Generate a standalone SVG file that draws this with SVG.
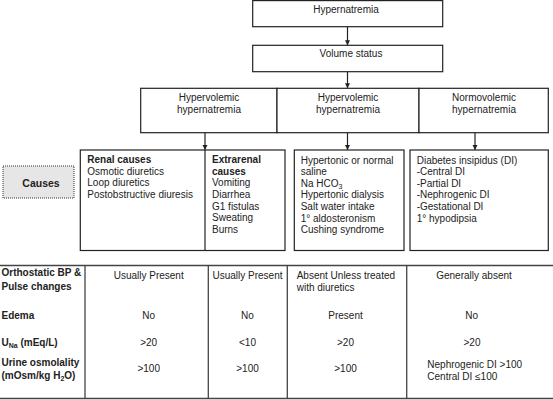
<svg xmlns="http://www.w3.org/2000/svg" width="553" height="400" viewBox="0 0 553 400">
<style>
.box{fill:#fff;stroke:#222;stroke-width:1.2}
.t{font-family:"Liberation Sans",Arial,sans-serif;font-size:10px;fill:#222}
.b{font-weight:bold}
.c{text-anchor:middle}
.con{stroke:#222;stroke-width:1.2;fill:none}
.tbl{stroke:#444;stroke-width:1.3;fill:none}
.sub{font-size:7px}
</style>
<defs>
<marker id="ah" markerUnits="userSpaceOnUse" markerWidth="6" markerHeight="6" refX="5" refY="3" orient="auto">
<path d="M0,0.5 L5,3 L0,5.5 z" fill="#222"/>
</marker>
</defs>
<rect width="553" height="400" fill="#fff"/>

<g id="connectors">
<line class="con" x1="347.5" y1="26.7" x2="347.5" y2="45.3" marker-end="url(#ah)"/>
<line class="con" x1="347.5" y1="71.7" x2="347.5" y2="88.3" marker-end="url(#ah)"/>
<line class="con" x1="205" y1="132.7" x2="205" y2="150" marker-end="url(#ah)"/>
<line class="con" x1="347.5" y1="132.7" x2="347.5" y2="150" marker-end="url(#ah)"/>
<line class="con" x1="475" y1="132.7" x2="475" y2="150" marker-end="url(#ah)"/>
</g>

<g id="hypernatremia">
<rect class="box" x="252.7" y="0.6" width="190" height="26.1"/>
<text class="t c" x="346" y="13">Hypernatremia</text>
</g>

<g id="volume-status">
<rect class="box" x="252.7" y="45.3" width="190" height="26.4"/>
<text class="t c" x="351" y="56.5">Volume status</text>
</g>

<g id="hypervolemic-1">
<rect class="box" x="140.7" y="88.3" width="136.3" height="44.4"/>
<text class="t c" x="209" y="100.5">Hypervolemic</text>
<text class="t c" x="209" y="113">hypernatremia</text>
</g>

<g id="hypervolemic-2">
<rect class="box" x="277" y="88.3" width="142" height="44.4"/>
<text class="t c" x="348" y="100.5">Hypervolemic</text>
<text class="t c" x="348" y="113">hypernatremia</text>
</g>

<g id="normovolemic">
<rect class="box" x="419" y="88.3" width="129.3" height="44.4"/>
<text class="t c" x="484" y="100.5">Normovolemic</text>
<text class="t c" x="484" y="113">hypernatremia</text>
</g>

<g id="causes-label">
<rect x="3" y="166" width="71" height="32" fill="#e6e6e6" stroke="#333" stroke-width="1" stroke-dasharray="1,1"/>
<text class="t b c" x="41" y="186.5" style="font-size:10.5px">Causes</text>
</g>

<g id="renal-extrarenal">
<rect class="box" x="80.3" y="150" width="204.7" height="100.5"/>
<line class="con" x1="205" y1="150" x2="205" y2="250.5"/>
<text class="t b" x="87.3" y="163">Renal causes</text>
<text class="t" x="87.3" y="174.8">Osmotic diuretics</text>
<text class="t" x="87.3" y="186.4">Loop diuretics</text>
<text class="t" x="87.3" y="198">Postobstructive diuresis</text>
<text class="t b" x="212" y="163">Extrarenal</text>
<text class="t b" x="212" y="174.8">causes</text>
<text class="t" x="212" y="186.4">Vomiting</text>
<text class="t" x="212" y="198">Diarrhea</text>
<text class="t" x="212" y="209.6">G1 fistulas</text>
<text class="t" x="212" y="221.2">Sweating</text>
<text class="t" x="212" y="232.8">Burns</text>
</g>

<g id="hypervolemic-causes">
<rect class="box" x="294.3" y="150" width="109.7" height="100.5"/>
<text class="t" x="300.7" y="163.5">Hypertonic or normal</text>
<text class="t" x="300.7" y="175.1">saline</text>
<text class="t" x="300.7" y="186.7">Na HCO<tspan class="sub" dy="2">3</tspan></text>
<text class="t" x="300.7" y="198.3">Hypertonic dialysis</text>
<text class="t" x="300.7" y="209.9">Salt water intake</text>
<text class="t" x="300.7" y="221.5">1° aldosteronism</text>
<text class="t" x="300.7" y="233.1">Cushing syndrome</text>
</g>

<g id="normovolemic-causes">
<rect class="box" x="410" y="150" width="138.3" height="100.5"/>
<text class="t" x="416.7" y="163.5">Diabetes insipidus (DI)</text>
<text class="t" x="416.7" y="175.1">-Central DI</text>
<text class="t" x="416.7" y="186.7">-Partial DI</text>
<text class="t" x="416.7" y="198.3">-Nephrogenic DI</text>
<text class="t" x="416.7" y="209.9">-Gestational DI</text>
<text class="t" x="416.7" y="221.5">1° hypodipsia</text>
</g>

<g id="table">
<line class="tbl" x1="0" y1="265.5" x2="553" y2="265.5"/>
<line class="tbl" x1="0" y1="398.5" x2="553" y2="398.5"/>
<line class="tbl" x1="85" y1="265.5" x2="85" y2="398.5"/>
<line class="tbl" x1="208.3" y1="265.5" x2="208.3" y2="398.5"/>
<line class="tbl" x1="287.3" y1="265.5" x2="287.3" y2="398.5"/>
<line class="tbl" x1="406.7" y1="265.5" x2="406.7" y2="398.5"/>

<text class="t b" x="1.5" y="275.5">Orthostatic BP &amp;</text>
<text class="t b" x="1.5" y="289.5">Pulse changes</text>
<text class="t b" x="1.5" y="318.5">Edema</text>
<text class="t b" x="1.5" y="346">U<tspan class="sub" dy="2">Na</tspan><tspan dy="-2"> (mEq/L)</tspan></text>
<text class="t b" x="1.5" y="366">Urine osmolality</text>
<text class="t b" x="1.5" y="378.5">(mOsm/kg H<tspan class="sub" dy="2">2</tspan><tspan dy="-2">O)</tspan></text>

<text class="t c" x="148.7" y="278.5">Usually Present</text>
<text class="t c" x="247.5" y="278.5">Usually Present</text>
<text class="t" x="296.7" y="278.5">Absent Unless treated</text>
<text class="t" x="296.7" y="291">with diuretics</text>
<text class="t c" x="474" y="278.5">Generally absent</text>

<text class="t c" x="148.7" y="319">No</text>
<text class="t c" x="247.5" y="319">No</text>
<text class="t c" x="345.5" y="319">Present</text>
<text class="t c" x="471.7" y="319">No</text>

<text class="t c" x="148.7" y="346">&gt;20</text>
<text class="t c" x="247.5" y="346">&lt;10</text>
<text class="t c" x="345.5" y="346">&gt;20</text>
<text class="t c" x="472" y="346">&gt;20</text>

<text class="t c" x="148.7" y="372">&gt;100</text>
<text class="t c" x="247.5" y="372">&gt;100</text>
<text class="t c" x="345.5" y="372">&gt;100</text>
<text class="t" x="427.3" y="367.5">Nephrogenic DI &gt;100</text>
<text class="t" x="427.3" y="379.5">Central DI ≤100</text>
</g>
</svg>
